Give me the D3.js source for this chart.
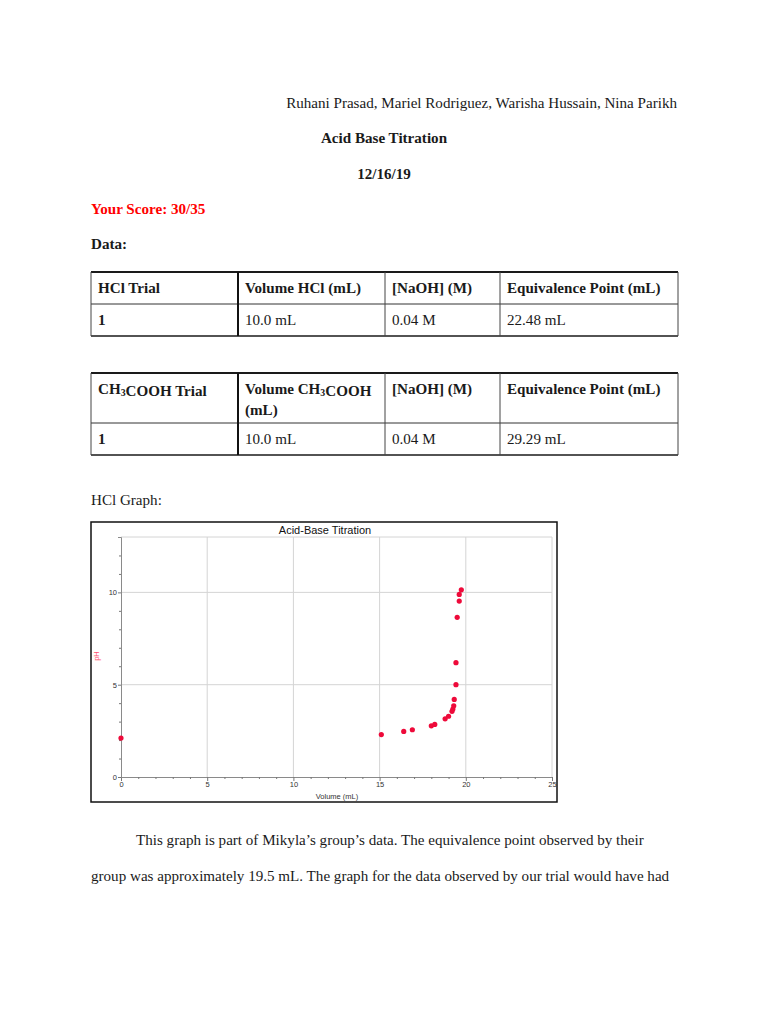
<!DOCTYPE html>
<html>
<head>
<meta charset="utf-8">
<title>Acid Base Titration</title>
<script src="https://cdn.jsdelivr.net/npm/d3@7/dist/d3.min.js"></script>
<style>
    body { margin: 0; background: #fff; }
    svg { display: block; }
</style>
</head>
<body>
<div id="page"></div>
<script>

// text of the page
var authors = "Ruhani Prasad, Mariel Rodriguez, Warisha Hussain, Nina Parikh";
var docTitle = "Acid Base Titration";
var docDate = "12/16/19";
var score = "Your Score: 30/35";
var dataLabel = "Data:";
var graphLabel = "HCl Graph:";
var paragraph = [
    "This graph is part of Mikyla\u2019s group\u2019s data. The equivalence point observed by their",
    "group was approximately 19.5 mL. The graph for the data observed by our trial would have had"
];

// tables ("_3" = subscript, "|" = line break)
var hclHeader = ["HCl Trial", "Volume HCl (mL)", "[NaOH] (M)", "Equivalence Point (mL)"];
var hclRow = ["1", "10.0 mL", "0.04 M", "22.48 mL"];
var aceticHeader = ["CH_3COOH Trial", "Volume CH_3COOH|(mL)", "[NaOH] (M)", "Equivalence Point (mL)"];
var aceticRow = ["1", "10.0 mL", "0.04 M", "29.29 mL"];

// chart data
var chartTitle = "Acid-Base Titration";
var xLabel = "Volume (mL)";
var yLabel = "pH";
var volume = [0, 15.1, 16.4, 16.9, 18.0, 18.2, 18.8, 19.0, 19.2, 19.25, 19.3, 19.33, 19.43, 19.43, 19.5, 19.62, 19.62, 19.74];
var ph = [2.11, 2.30, 2.47, 2.56, 2.77, 2.85, 3.15, 3.29, 3.56, 3.68, 3.86, 4.20, 5.00, 6.19, 8.65, 9.53, 9.89, 10.14];
var xTicks = [0, 5, 10, 15, 20, 25];
var yTicks = [0, 5, 10];

var serif = "'Liberation Serif', 'Times New Roman', serif";
var sans = "'Liberation Sans', Arial, sans-serif";
var fs = 15.1;

var svg = d3.select("#page").append("svg")
    .attr("width", 768)
    .attr("height", 1024);

function addText(x, y, str, opts) {
    opts = opts || {};
    return svg.append("text")
        .attr("x", x)
        .attr("y", y)
        .attr("font-family", serif)
        .attr("font-size", fs)
        .attr("font-weight", opts.bold ? "bold" : "normal")
        .attr("text-anchor", opts.anchor || "start")
        .attr("fill", opts.color || "#1a1a1a")
        .text(str);
}

// header block
addText(677, 108, authors, {anchor: "end"});
addText(384, 143, docTitle, {anchor: "middle", bold: true});
addText(384, 179, docDate, {anchor: "middle", bold: true});
addText(91, 214, score, {bold: true, color: "#ff0000"});
addText(91, 249, dataLabel, {bold: true});

// TABLES

var colX = [91, 238, 385, 500, 678];

function richText(sel, str) {
    str.split(/(_\d)/).forEach(function(part) {
        if (part.charAt(0) === "_") {
            sel.append("tspan")
                .attr("font-size", fs * 0.65)
                .attr("dy", 2)
                .text(part.slice(1));
            sel.append("tspan").attr("dy", -2).text("");
        } else if (part.length) {
            sel.append("tspan").text(part);
        }
    });
}

function drawTable(rowsY, header, row) {
    var t = svg.append("g");
    var cells = [header, row];

    // horizontal rules
    t.append("line")
        .attr("x1", colX[0]).attr("x2", colX[4])
        .attr("y1", rowsY[0]).attr("y2", rowsY[0])
        .attr("stroke", "#1a1a1a").attr("stroke-width", 2);
    t.append("line")
        .attr("x1", colX[0]).attr("x2", colX[4])
        .attr("y1", rowsY[1]).attr("y2", rowsY[1])
        .attr("stroke", "#333").attr("stroke-width", 1);
    t.append("line")
        .attr("x1", colX[0]).attr("x2", colX[4])
        .attr("y1", rowsY[2]).attr("y2", rowsY[2])
        .attr("stroke", "#1a1a1a").attr("stroke-width", 1.6);

    // vertical rules
    colX.forEach(function(x, i) {
        t.append("line")
            .attr("x1", x).attr("x2", x)
            .attr("y1", rowsY[0]).attr("y2", rowsY[2])
            .attr("stroke", i === 1 ? "#111" : "#444")
            .attr("stroke-width", i === 1 ? 2 : 1);
    });

    cells.forEach(function(r, ri) {
        r.forEach(function(str, ci) {
            str.split("|").forEach(function(line, li) {
                var txt = t.append("text")
                    .attr("x", colX[ci] + 7)
                    .attr("y", rowsY[ri] + 21 + li * 21)
                    .attr("font-family", serif)
                    .attr("font-size", fs)
                    .attr("font-weight", (ri === 0 || ci === 0) ? "bold" : "normal")
                    .attr("fill", "#1a1a1a");
                richText(txt, line);
            });
        });
    });
}

drawTable([272, 304, 336], hclHeader, hclRow);
drawTable([373, 423, 455], aceticHeader, aceticRow);

addText(91, 505, graphLabel);

// CHART

svg.append("rect")
    .attr("x", 91)
    .attr("y", 522)
    .attr("width", 466)
    .attr("height", 280)
    .attr("fill", "#fff")
    .attr("stroke", "#111")
    .attr("stroke-width", 1.5);

var x = d3.scaleLinear()
    .domain([0, 25])
    .range([121, 552]);

var y = d3.scaleLinear()
    .domain([0, 13])
    .range([777, 537]);

var chart = svg.append("g");

// grid
chart.selectAll(".vgrid")
    .data(xTicks.slice(1))
    .enter().append("line")
        .attr("class", "vgrid")
        .attr("x1", function(d) { return x(d); })
        .attr("x2", function(d) { return x(d); })
        .attr("y1", y(13))
        .attr("y2", y(0))
        .attr("stroke", "#d4d4d4")
        .attr("stroke-width", 1);

chart.selectAll(".hgrid")
    .data(yTicks.slice(1).concat([13]))
    .enter().append("line")
        .attr("class", "hgrid")
        .attr("x1", x(0))
        .attr("x2", x(25))
        .attr("y1", function(d) { return y(d); })
        .attr("y2", function(d) { return y(d); })
        .attr("stroke", "#d4d4d4")
        .attr("stroke-width", 1);

// axes
chart.append("g")
    .attr("transform", "translate(0," + y(0) + ")")
    .call(d3.axisBottom(x)
        .tickValues(xTicks)
        .tickSize(4)
        .tickPadding(1)
        .tickFormat(d3.format("d")));

chart.append("g")
    .attr("transform", "translate(0," + y(0) + ")")
    .call(d3.axisBottom(x)
        .tickValues(d3.range(1, 25).filter(function(d) { return d % 5 !== 0; }))
        .tickSize(2)
        .tickFormat(""))
    .select(".domain").remove();

chart.append("g")
    .attr("transform", "translate(" + x(0) + ",0)")
    .call(d3.axisLeft(y)
        .tickValues(yTicks)
        .tickSize(3)
        .tickPadding(1)
        .tickFormat(d3.format("d")));

chart.append("g")
    .attr("transform", "translate(" + x(0) + ",0)")
    .call(d3.axisLeft(y)
        .tickValues(d3.range(1, 13).filter(function(d) { return d % 5 !== 0; }))
        .tickSize(2)
        .tickFormat(""))
    .select(".domain").remove();

chart.selectAll(".domain")
    .attr("stroke", "#8a8a8a");
chart.selectAll(".tick line")
    .attr("stroke", "#777");
chart.selectAll(".tick text")
    .attr("font-family", sans)
    .attr("font-size", 7.5)
    .attr("fill", "#333");

// titles
chart.append("text")
    .attr("x", 325)
    .attr("y", 534)
    .attr("text-anchor", "middle")
    .attr("font-family", sans)
    .attr("font-size", 11)
    .attr("fill", "#111")
    .text(chartTitle);

chart.append("text")
    .attr("x", 337)
    .attr("y", 799)
    .attr("text-anchor", "middle")
    .attr("font-family", sans)
    .attr("font-size", 7.5)
    .attr("fill", "#333")
    .text(xLabel);

chart.append("text")
    .attr("transform", "translate(99," + 656 + ") rotate(-90)")
    .attr("text-anchor", "middle")
    .attr("font-family", sans)
    .attr("font-size", 7.5)
    .attr("fill", "#ff4d6d")
    .text(yLabel);

// points
chart.selectAll("circle")
    .data(volume)
    .enter().append("circle")
        .attr("cx", function(d) { return x(d); })
        .attr("cy", function(d, i) { return y(ph[i]); })
        .attr("r", 2.6)
        .attr("fill", "#ee0a3a");

// PARAGRAPH

addText(136, 845, paragraph[0]);
addText(91, 881, paragraph[1]);

</script>
</body>
</html>
